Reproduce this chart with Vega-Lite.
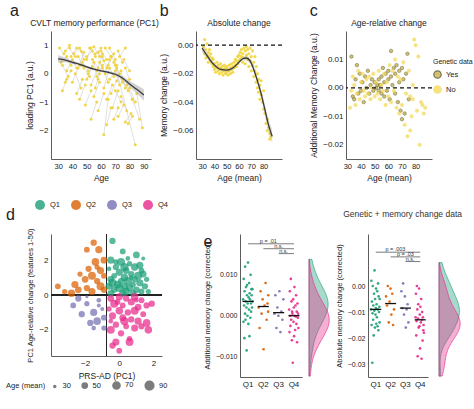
{
  "$schema": "https://vega.github.io/schema/vega-lite/v6.json",
  "background": "white",
  "padding": {"left": 6, "top": 2, "right": 2, "bottom": 2},
  "config": {
    "font": "Liberation Sans",
    "view": {"stroke": null},
    "axis": {"grid": false, "ticks": false, "domainColor": "#333", "domainWidth": 0.8, "labelFontSize": 8, "labelColor": "#222", "labelOverlap": false, "titleFontSize": 8.5, "titleFontWeight": "normal", "titleColor": "#222", "labelPadding": 3, "titlePadding": 4},
    "title": {"fontSize": 8.5, "fontWeight": "normal", "color": "#222", "offset": 4},
    "legend": {"titleFontWeight": "normal", "titleFontSize": 8, "labelFontSize": 8, "titleColor": "#222", "labelColor": "#222"}
  },
  "datasets": {
    "a_obs": [
      {"s":1,"age":31,"v":0.9},{"s":1,"age":34,"v":0.7},
      {"s":2,"age":32,"v":0.4},{"s":2,"age":36,"v":0.6},{"s":2,"age":39,"v":0.3},
      {"s":3,"age":33,"v":-0.6},{"s":3,"age":36,"v":-0.2},
      {"s":4,"age":35,"v":0.8},{"s":4,"age":38,"v":1.0},
      {"s":5,"age":36,"v":0.1},{"s":5,"age":40,"v":0.5},{"s":5,"age":43,"v":0.2},
      {"s":6,"age":38,"v":0.9},{"s":6,"age":42,"v":0.6},
      {"s":7,"age":40,"v":-0.3},{"s":7,"age":44,"v":0.2},
      {"s":8,"age":41,"v":0.7},{"s":8,"age":45,"v":0.9},{"s":8,"age":48,"v":0.5},
      {"s":9,"age":42,"v":0.0},{"s":9,"age":46,"v":-0.5},
      {"s":10,"age":44,"v":0.6},{"s":10,"age":47,"v":0.3},
      {"s":11,"age":45,"v":-0.9},{"s":11,"age":49,"v":-0.4},
      {"s":12,"age":46,"v":0.8},{"s":12,"age":50,"v":0.5},{"s":12,"age":53,"v":0.9},
      {"s":13,"age":48,"v":0.2},{"s":13,"age":52,"v":-0.1},
      {"s":14,"age":49,"v":-1.1},{"s":14,"age":53,"v":-0.6},
      {"s":15,"age":50,"v":0.6},{"s":15,"age":54,"v":0.8},
      {"s":16,"age":51,"v":0.0},{"s":16,"age":55,"v":0.4},{"s":16,"age":58,"v":-0.2},
      {"s":17,"age":52,"v":0.9},{"s":17,"age":56,"v":0.6},
      {"s":18,"age":53,"v":-0.4},{"s":18,"age":57,"v":0.1},
      {"s":19,"age":54,"v":0.5},{"s":19,"age":58,"v":0.2},{"s":19,"age":61,"v":0.7},
      {"s":20,"age":55,"v":-0.8},{"s":20,"age":59,"v":-0.3},
      {"s":21,"age":56,"v":0.7},{"s":21,"age":60,"v":0.9},
      {"s":22,"age":57,"v":-0.1},{"s":22,"age":61,"v":0.3},
      {"s":23,"age":58,"v":-1.3},{"s":23,"age":62,"v":-0.7},
      {"s":24,"age":59,"v":0.4},{"s":24,"age":63,"v":0.0},{"s":24,"age":66,"v":0.5},
      {"s":25,"age":60,"v":0.8},{"s":25,"age":64,"v":0.5},
      {"s":26,"age":62,"v":-2.15},{"s":26,"age":65,"v":-0.9},
      {"s":27,"age":61,"v":0.2},{"s":27,"age":65,"v":-0.3},
      {"s":28,"age":62,"v":-0.5},{"s":28,"age":66,"v":0.2},{"s":28,"age":69,"v":-0.1},
      {"s":29,"age":63,"v":0.9},{"s":29,"age":67,"v":0.6},
      {"s":30,"age":64,"v":-0.9},{"s":30,"age":68,"v":-0.4},
      {"s":31,"age":65,"v":0.3},{"s":31,"age":69,"v":0.7},
      {"s":32,"age":66,"v":-0.2},{"s":32,"age":70,"v":0.1},{"s":32,"age":73,"v":-0.4},
      {"s":33,"age":67,"v":0.6},{"s":33,"age":71,"v":0.3},
      {"s":34,"age":68,"v":-1.2},{"s":34,"age":72,"v":-0.6},
      {"s":35,"age":69,"v":0.4},{"s":35,"age":73,"v":0.0},
      {"s":36,"age":70,"v":-0.6},{"s":36,"age":74,"v":-1.0},
      {"s":37,"age":71,"v":0.2},{"s":37,"age":75,"v":-0.3},
      {"s":38,"age":72,"v":-1.5},{"s":38,"age":76,"v":-1.1},
      {"s":39,"age":73,"v":0.6},{"s":39,"age":77,"v":0.9},
      {"s":40,"age":74,"v":-0.8},{"s":40,"age":78,"v":-1.3},
      {"s":41,"age":75,"v":-0.2},{"s":41,"age":79,"v":-0.6},
      {"s":42,"age":76,"v":0.5},{"s":42,"age":80,"v":0.1},
      {"s":43,"age":77,"v":-1.7},{"s":43,"age":81,"v":-1.4},
      {"s":44,"age":78,"v":-0.4},{"s":44,"age":82,"v":-0.9},
      {"s":45,"age":70,"v":0.3},{"s":45,"age":84,"v":-2.5},
      {"s":46,"age":80,"v":-0.5},{"s":46,"age":84,"v":-1.0},
      {"s":47,"age":82,"v":-0.9},{"s":47,"age":87,"v":-1.6},
      {"s":48,"age":85,"v":-0.7},{"s":48,"age":89,"v":-1.9},
      {"s":49,"age":33,"v":0.3},{"s":49,"age":37,"v":-0.1},
      {"s":50,"age":47,"v":0.4},{"s":50,"age":51,"v":0.1},
      {"s":51,"age":61,"v":0.6},{"s":51,"age":64,"v":0.2},
      {"s":52,"age":66,"v":0.9},{"s":52,"age":70,"v":0.5},
      {"s":53,"age":35,"v":-0.3},{"s":53,"age":39,"v":0.1},
      {"s":54,"age":56,"v":-0.5},{"s":54,"age":59,"v":0.0},
      {"s":55,"age":72,"v":0.8},{"s":55,"age":75,"v":0.4},
      {"s":56,"age":43,"v":-0.7},{"s":56,"age":47,"v":-0.2},
      {"s":57,"age":77,"v":0.2},{"s":57,"age":80,"v":-0.2},
      {"s":58,"age":53,"v":-1.6},{"s":58,"age":57,"v":-1.0},
      {"s":59,"age":64,"v":-1.8},{"s":59,"age":67,"v":-1.2},
      {"s":60,"age":39,"v":0.6},{"s":60,"age":43,"v":0.9},
      {"s":61,"age":58,"v":0.75},{"s":61,"age":62,"v":0.45},
      {"s":62,"age":67,"v":-0.7},{"s":62,"age":71,"v":-0.25},
      {"s":63,"age":74,"v":0.1},{"s":63,"age":77,"v":-0.5},
      {"s":64,"age":45,"v":0.3},{"s":64,"age":48,"v":0.75},
      {"s":65,"age":50,"v":-0.2},{"s":65,"age":54,"v":0.25},
      {"s":66,"age":69,"v":-1.6},{"s":66,"age":72,"v":-1.2},
      {"s":67,"age":79,"v":-1.75},{"s":67,"age":82,"v":-1.5},
      {"s":68,"age":55,"v":0.95},{"s":68,"age":59,"v":0.6}
    ],
    "a_fit": [
      {"age":30,"fit":0.52,"lo":0.38,"hi":0.66},{"age":35,"fit":0.48,"lo":0.40,"hi":0.56},
      {"age":40,"fit":0.40,"lo":0.34,"hi":0.46},{"age":45,"fit":0.33,"lo":0.28,"hi":0.38},
      {"age":50,"fit":0.24,"lo":0.20,"hi":0.28},{"age":55,"fit":0.16,"lo":0.12,"hi":0.20},
      {"age":60,"fit":0.10,"lo":0.06,"hi":0.14},{"age":65,"fit":0.05,"lo":0.01,"hi":0.09},
      {"age":70,"fit":-0.02,"lo":-0.07,"hi":0.03},{"age":75,"fit":-0.15,"lo":-0.22,"hi":-0.08},
      {"age":80,"fit":-0.36,"lo":-0.46,"hi":-0.26},{"age":85,"fit":-0.55,"lo":-0.70,"hi":-0.40},
      {"age":90,"fit":-0.75,"lo":-0.95,"hi":-0.55}
    ],
    "b_obs": [
      {"age":31,"v":-0.001},{"age":32,"v":0.004},{"age":32,"v":-0.006},{"age":33,"v":-0.003},{"age":33,"v":-0.009},
      {"age":34,"v":0.001},{"age":34,"v":-0.007},{"age":35,"v":-0.005},{"age":35,"v":-0.012},{"age":36,"v":-0.008},
      {"age":36,"v":-0.003},{"age":37,"v":-0.011},{"age":37,"v":-0.006},{"age":38,"v":-0.013},{"age":38,"v":-0.009},
      {"age":39,"v":-0.010},{"age":39,"v":-0.015},{"age":40,"v":-0.013},{"age":40,"v":-0.017},
      {"age":41,"v":-0.015},{"age":41,"v":-0.019},{"age":42,"v":-0.016},{"age":42,"v":-0.012},{"age":43,"v":-0.018},
      {"age":43,"v":-0.014},{"age":44,"v":-0.020},{"age":44,"v":-0.016},{"age":45,"v":-0.017},{"age":45,"v":-0.013},
      {"age":46,"v":-0.019},{"age":46,"v":-0.015},{"age":47,"v":-0.021},{"age":47,"v":-0.017},{"age":48,"v":-0.018},
      {"age":48,"v":-0.014},{"age":49,"v":-0.020},{"age":49,"v":-0.016},{"age":50,"v":-0.019},{"age":50,"v":-0.015},
      {"age":51,"v":-0.021},{"age":51,"v":-0.017},{"age":52,"v":-0.018},{"age":52,"v":-0.014},{"age":53,"v":-0.020},
      {"age":53,"v":-0.016},{"age":54,"v":-0.017},{"age":54,"v":-0.013},{"age":55,"v":-0.019},{"age":55,"v":-0.015},
      {"age":56,"v":-0.016},{"age":56,"v":-0.012},{"age":57,"v":-0.014},{"age":57,"v":-0.010},{"age":58,"v":-0.015},
      {"age":58,"v":-0.011},{"age":59,"v":-0.013},{"age":59,"v":-0.008},{"age":60,"v":-0.011},{"age":60,"v":-0.007},
      {"age":61,"v":-0.010},{"age":61,"v":-0.005},{"age":62,"v":-0.008},{"age":62,"v":-0.003},{"age":63,"v":-0.006},
      {"age":63,"v":-0.012},{"age":64,"v":-0.002},{"age":64,"v":-0.009},{"age":65,"v":-0.004},{"age":65,"v":-0.013},
      {"age":66,"v":-0.001},{"age":66,"v":-0.007},{"age":67,"v":-0.010},{"age":67,"v":-0.003},{"age":68,"v":-0.006},
      {"age":68,"v":-0.015},{"age":69,"v":-0.002},{"age":69,"v":-0.011},{"age":70,"v":-0.008},{"age":70,"v":-0.018},
      {"age":71,"v":-0.004},{"age":71,"v":-0.014},{"age":72,"v":-0.012},{"age":72,"v":-0.022},{"age":73,"v":-0.018},
      {"age":73,"v":-0.008},{"age":74,"v":-0.026},{"age":74,"v":-0.015},{"age":75,"v":-0.030},{"age":75,"v":-0.020},
      {"age":76,"v":-0.024},{"age":76,"v":-0.033},{"age":77,"v":-0.028},{"age":77,"v":-0.038},{"age":78,"v":-0.035},
      {"age":78,"v":-0.025},{"age":79,"v":-0.040},{"age":80,"v":-0.045},{"age":80,"v":-0.032},{"age":81,"v":-0.048},
      {"age":82,"v":-0.055},{"age":83,"v":-0.052},{"age":83,"v":-0.060},{"age":84,"v":-0.058},{"age":85,"v":-0.066},
      {"age":85,"v":-0.062},{"age":86,"v":-0.064}
    ],
    "b_fit": [
      {"age":30,"fit":-0.002,"lo":-0.005,"hi":0.001},{"age":33,"fit":-0.006,"lo":-0.008,"hi":-0.004},
      {"age":36,"fit":-0.010,"lo":-0.0115,"hi":-0.0085},{"age":40,"fit":-0.014,"lo":-0.0152,"hi":-0.0128},
      {"age":45,"fit":-0.017,"lo":-0.018,"hi":-0.016},{"age":50,"fit":-0.0175,"lo":-0.0185,"hi":-0.0165},
      {"age":55,"fit":-0.016,"lo":-0.017,"hi":-0.015},{"age":60,"fit":-0.012,"lo":-0.013,"hi":-0.011},
      {"age":63,"fit":-0.0095,"lo":-0.011,"hi":-0.008},{"age":66,"fit":-0.009,"lo":-0.0105,"hi":-0.0075},
      {"age":69,"fit":-0.011,"lo":-0.013,"hi":-0.009},{"age":72,"fit":-0.017,"lo":-0.019,"hi":-0.015},
      {"age":75,"fit":-0.025,"lo":-0.0275,"hi":-0.0225},{"age":78,"fit":-0.034,"lo":-0.037,"hi":-0.031},
      {"age":81,"fit":-0.045,"lo":-0.0485,"hi":-0.0415},{"age":84,"fit":-0.056,"lo":-0.060,"hi":-0.052},
      {"age":87,"fit":-0.064,"lo":-0.069,"hi":-0.059}
    ],
    "c_obs": [
      {"age":33,"v":0.011,"g":"Yes"},{"age":34,"v":-0.003,"g":"Yes"},{"age":35,"v":-0.004,"g":"Yes"},{"age":36,"v":0.003,"g":"Yes"},
      {"age":37,"v":0.008,"g":"Yes"},{"age":38,"v":-0.002,"g":"Yes"},{"age":39,"v":0.005,"g":"Yes"},{"age":40,"v":-0.001,"g":"Yes"},
      {"age":41,"v":0.002,"g":"Yes"},{"age":42,"v":-0.005,"g":"Yes"},{"age":43,"v":0.004,"g":"Yes"},{"age":44,"v":0.000,"g":"Yes"},
      {"age":45,"v":0.006,"g":"Yes"},{"age":46,"v":-0.002,"g":"Yes"},{"age":47,"v":0.001,"g":"Yes"},{"age":48,"v":0.003,"g":"Yes"},
      {"age":49,"v":-0.001,"g":"Yes"},{"age":50,"v":0.002,"g":"Yes"},{"age":51,"v":0.000,"g":"Yes"},{"age":52,"v":0.001,"g":"Yes"},
      {"age":53,"v":-0.001,"g":"Yes"},{"age":53,"v":0.003,"g":"Yes"},{"age":54,"v":0.001,"g":"Yes"},{"age":55,"v":-0.002,"g":"Yes"},
      {"age":55,"v":0.004,"g":"Yes"},{"age":56,"v":0.007,"g":"Yes"},{"age":57,"v":-0.003,"g":"Yes"},{"age":57,"v":0.002,"g":"Yes"},
      {"age":58,"v":0.005,"g":"Yes"},{"age":59,"v":-0.001,"g":"Yes"},{"age":60,"v":0.003,"g":"Yes"},{"age":60,"v":0.006,"g":"Yes"},
      {"age":61,"v":-0.004,"g":"Yes"},{"age":62,"v":0.004,"g":"Yes"},{"age":62,"v":0.013,"g":"Yes"},{"age":63,"v":0.001,"g":"Yes"},
      {"age":64,"v":0.007,"g":"Yes"},{"age":65,"v":-0.002,"g":"Yes"},{"age":65,"v":0.005,"g":"Yes"},{"age":66,"v":0.008,"g":"Yes"},
      {"age":67,"v":-0.005,"g":"Yes"},{"age":68,"v":0.006,"g":"Yes"},{"age":68,"v":0.002,"g":"Yes"},{"age":69,"v":-0.008,"g":"Yes"},
      {"age":70,"v":0.007,"g":"Yes"},{"age":70,"v":-0.011,"g":"Yes"},{"age":71,"v":0.003,"g":"Yes"},{"age":72,"v":-0.009,"g":"Yes"},
      {"age":73,"v":0.005,"g":"Yes"},{"age":74,"v":0.012,"g":"Yes"},{"age":75,"v":-0.004,"g":"Yes"},
      {"age":32,"v":-0.007,"g":"No"},{"age":33,"v":-0.001,"g":"No"},{"age":34,"v":0.004,"g":"No"},{"age":35,"v":0.001,"g":"No"},
      {"age":36,"v":-0.006,"g":"No"},{"age":37,"v":-0.002,"g":"No"},{"age":38,"v":0.006,"g":"No"},{"age":39,"v":-0.004,"g":"No"},
      {"age":40,"v":0.002,"g":"No"},{"age":41,"v":0.005,"g":"No"},{"age":42,"v":-0.001,"g":"No"},{"age":43,"v":-0.003,"g":"No"},
      {"age":44,"v":0.003,"g":"No"},{"age":45,"v":-0.002,"g":"No"},{"age":46,"v":0.004,"g":"No"},{"age":47,"v":-0.004,"g":"No"},
      {"age":48,"v":0.000,"g":"No"},{"age":49,"v":0.005,"g":"No"},{"age":50,"v":-0.003,"g":"No"},{"age":51,"v":0.002,"g":"No"},
      {"age":52,"v":-0.002,"g":"No"},{"age":53,"v":0.006,"g":"No"},{"age":54,"v":-0.004,"g":"No"},{"age":55,"v":0.001,"g":"No"},
      {"age":56,"v":-0.001,"g":"No"},{"age":57,"v":0.005,"g":"No"},{"age":58,"v":-0.006,"g":"No"},{"age":59,"v":0.002,"g":"No"},
      {"age":60,"v":-0.003,"g":"No"},{"age":61,"v":0.008,"g":"No"},{"age":62,"v":-0.005,"g":"No"},{"age":63,"v":0.006,"g":"No"},
      {"age":64,"v":-0.001,"g":"No"},{"age":65,"v":0.010,"g":"No"},{"age":66,"v":-0.007,"g":"No"},{"age":67,"v":0.004,"g":"No"},
      {"age":68,"v":-0.009,"g":"No"},{"age":69,"v":0.003,"g":"No"},{"age":70,"v":-0.006,"g":"No"},{"age":71,"v":0.009,"g":"No"},
      {"age":72,"v":-0.013,"g":"No"},{"age":73,"v":-0.002,"g":"No"},{"age":74,"v":-0.017,"g":"No"},{"age":75,"v":0.006,"g":"No"},
      {"age":76,"v":-0.003,"g":"No"},{"age":77,"v":-0.010,"g":"No"},{"age":78,"v":-0.004,"g":"No"},{"age":79,"v":0.017,"g":"No"},
      {"age":80,"v":0.015,"g":"No"},{"age":81,"v":-0.008,"g":"No"},{"age":82,"v":0.011,"g":"No"},{"age":83,"v":-0.020,"g":"No"},
      {"age":84,"v":-0.005,"g":"No"},{"age":85,"v":-0.006,"g":"No"},{"age":86,"v":-0.009,"g":"No"},{"age":87,"v":-0.007,"g":"No"},
      {"age":76,"v":-0.015,"g":"No"},{"age":78,"v":0.001,"g":"No"}
    ],
    "d_obs": [
      {"x":-0.4,"y":3.1,"a":60,"q":"Q1"},{"x":0.2,"y":2.5,"a":55,"q":"Q1"},{"x":1.0,"y":2.3,"a":65,"q":"Q1"},{"x":1.4,"y":2.1,"a":40,"q":"Q1"},
      {"x":-0.5,"y":2.0,"a":70,"q":"Q1"},{"x":0.1,"y":1.9,"a":80,"q":"Q1"},{"x":0.6,"y":1.8,"a":50,"q":"Q1"},{"x":-0.2,"y":1.6,"a":60,"q":"Q1"},
      {"x":0.9,"y":1.6,"a":75,"q":"Q1"},{"x":1.3,"y":1.4,"a":55,"q":"Q1"},{"x":-0.6,"y":1.5,"a":45,"q":"Q1"},{"x":0.4,"y":1.4,"a":65,"q":"Q1"},
      {"x":0.0,"y":1.3,"a":70,"q":"Q1"},{"x":0.7,"y":1.2,"a":60,"q":"Q1"},{"x":1.1,"y":1.1,"a":80,"q":"Q1"},{"x":-0.3,"y":1.1,"a":55,"q":"Q1"},
      {"x":0.3,"y":1.0,"a":75,"q":"Q1"},{"x":0.9,"y":0.9,"a":60,"q":"Q1"},{"x":1.6,"y":0.9,"a":50,"q":"Q1"},{"x":-0.5,"y":0.9,"a":65,"q":"Q1"},
      {"x":0.1,"y":0.8,"a":60,"q":"Q1"},{"x":0.5,"y":0.8,"a":85,"q":"Q1"},{"x":1.2,"y":0.7,"a":70,"q":"Q1"},{"x":-0.1,"y":0.6,"a":75,"q":"Q1"},
      {"x":0.8,"y":0.6,"a":55,"q":"Q1"},{"x":0.3,"y":0.5,"a":65,"q":"Q1"},{"x":1.5,"y":0.5,"a":60,"q":"Q1"},{"x":-0.6,"y":0.5,"a":70,"q":"Q1"},
      {"x":0.0,"y":0.4,"a":80,"q":"Q1"},{"x":0.6,"y":0.4,"a":70,"q":"Q1"},{"x":1.0,"y":0.3,"a":65,"q":"Q1"},{"x":-0.3,"y":0.3,"a":60,"q":"Q1"},
      {"x":0.4,"y":0.2,"a":75,"q":"Q1"},{"x":1.3,"y":0.2,"a":55,"q":"Q1"},{"x":-0.5,"y":0.1,"a":65,"q":"Q1"},{"x":0.2,"y":0.1,"a":70,"q":"Q1"},
      {"x":0.8,"y":0.1,"a":60,"q":"Q1"},{"x":1.7,"y":0.2,"a":50,"q":"Q1"},{"x":-0.2,"y":1.9,"a":50,"q":"Q1"},{"x":0.5,"y":2.1,"a":45,"q":"Q1"},
      {"x":1.2,"y":1.7,"a":70,"q":"Q1"},{"x":0.3,"y":1.6,"a":85,"q":"Q1"},{"x":-0.4,"y":0.7,"a":85,"q":"Q1"},{"x":0.7,"y":1.0,"a":45,"q":"Q1"},
      {"x":1.4,"y":1.2,"a":65,"q":"Q1"},
      {"x":-1.5,"y":3.0,"a":60,"q":"Q2"},{"x":-1.9,"y":2.6,"a":55,"q":"Q2"},{"x":-1.2,"y":2.6,"a":70,"q":"Q2"},{"x":-0.9,"y":2.0,"a":65,"q":"Q2"},
      {"x":-1.4,"y":1.9,"a":75,"q":"Q2"},{"x":-1.8,"y":1.5,"a":60,"q":"Q2"},{"x":-1.1,"y":1.4,"a":70,"q":"Q2"},{"x":-2.3,"y":1.2,"a":50,"q":"Q2"},
      {"x":-1.6,"y":1.1,"a":80,"q":"Q2"},{"x":-0.9,"y":1.1,"a":55,"q":"Q2"},{"x":-2.0,"y":0.9,"a":65,"q":"Q2"},{"x":-1.3,"y":0.8,"a":60,"q":"Q2"},
      {"x":-3.6,"y":0.5,"a":55,"q":"Q2"},{"x":-2.6,"y":0.6,"a":70,"q":"Q2"},{"x":-1.9,"y":0.4,"a":60,"q":"Q2"},{"x":-1.1,"y":0.5,"a":80,"q":"Q2"},
      {"x":-3.2,"y":0.2,"a":50,"q":"Q2"},{"x":-2.4,"y":0.3,"a":65,"q":"Q2"},{"x":-1.6,"y":0.2,"a":70,"q":"Q2"},{"x":-0.9,"y":0.3,"a":60,"q":"Q2"},
      {"x":-2.8,"y":0.1,"a":75,"q":"Q2"},{"x":-1.3,"y":1.6,"a":50,"q":"Q2"},
      {"x":-2.4,"y":-0.2,"a":60,"q":"Q3"},{"x":-1.9,"y":-0.5,"a":50,"q":"Q3"},{"x":-1.2,"y":-0.3,"a":45,"q":"Q3"},{"x":-2.7,"y":-0.6,"a":55,"q":"Q3"},
      {"x":-1.5,"y":-1.0,"a":70,"q":"Q3"},{"x":-2.2,"y":-1.1,"a":60,"q":"Q3"},{"x":-1.0,"y":-0.8,"a":40,"q":"Q3"},{"x":-1.3,"y":-1.5,"a":75,"q":"Q3"},
      {"x":-1.7,"y":-1.6,"a":60,"q":"Q3"},{"x":-0.9,"y":-1.9,"a":50,"q":"Q3"},{"x":-0.9,"y":-1.3,"a":55,"q":"Q3"},{"x":-1.9,"y":-0.1,"a":35,"q":"Q3"},
      {"x":-1.5,"y":-1.9,"a":45,"q":"Q3"},{"x":-1.2,"y":-0.6,"a":40,"q":"Q3"},
      {"x":-0.5,"y":-0.2,"a":65,"q":"Q4"},{"x":0.0,"y":-0.1,"a":70,"q":"Q4"},{"x":0.4,"y":-0.2,"a":60,"q":"Q4"},{"x":0.9,"y":-0.1,"a":75,"q":"Q4"},
      {"x":1.3,"y":-0.3,"a":55,"q":"Q4"},{"x":1.9,"y":-0.5,"a":60,"q":"Q4"},{"x":-0.3,"y":-0.5,"a":80,"q":"Q4"},{"x":0.2,"y":-0.6,"a":55,"q":"Q4"},
      {"x":0.7,"y":-0.4,"a":70,"q":"Q4"},{"x":1.1,"y":-0.7,"a":65,"q":"Q4"},{"x":1.6,"y":-0.6,"a":60,"q":"Q4"},{"x":-0.6,"y":-0.8,"a":50,"q":"Q4"},
      {"x":0.0,"y":-0.9,"a":75,"q":"Q4"},{"x":0.5,"y":-1.0,"a":60,"q":"Q4"},{"x":0.9,"y":-0.9,"a":80,"q":"Q4"},{"x":1.4,"y":-1.1,"a":55,"q":"Q4"},
      {"x":-0.4,"y":-1.2,"a":70,"q":"Q4"},{"x":0.2,"y":-1.3,"a":65,"q":"Q4"},{"x":0.7,"y":-1.4,"a":60,"q":"Q4"},{"x":1.1,"y":-1.5,"a":70,"q":"Q4"},
      {"x":1.6,"y":-1.6,"a":75,"q":"Q4"},{"x":-0.2,"y":-1.7,"a":60,"q":"Q4"},{"x":0.4,"y":-1.8,"a":55,"q":"Q4"},{"x":0.9,"y":-1.9,"a":70,"q":"Q4"},
      {"x":-0.5,"y":-2.0,"a":80,"q":"Q4"},{"x":0.1,"y":-2.2,"a":60,"q":"Q4"},{"x":1.7,"y":-2.0,"a":75,"q":"Q4"},{"x":1.3,"y":-1.8,"a":60,"q":"Q4"},
      {"x":0.6,"y":-2.5,"a":50,"q":"Q4"},{"x":-0.2,"y":-2.7,"a":70,"q":"Q4"},{"x":0.6,"y":-2.7,"a":80,"q":"Q4"},{"x":-0.4,"y":-2.9,"a":60,"q":"Q4"},
      {"x":0.0,"y":-3.2,"a":55,"q":"Q4"},{"x":-0.1,"y":-0.4,"a":55,"q":"Q4"},{"x":1.0,"y":-0.3,"a":45,"q":"Q4"},{"x":0.3,"y":-1.5,"a":85,"q":"Q4"},
      {"x":-0.5,"y":-1.5,"a":45,"q":"Q4"}
    ],
    "e_add": [
      {"q":"Q1","v":0.004},{"q":"Q4","v":0.0015},{"q":"Q2","v":0.002},{"q":"Q1","v":-0.0015},{"q":"Q4","v":-0.004},{"q":"Q1","v":0.009},{"q":"Q3","v":0.0005},{"q":"Q4","v":0.006},{"q":"Q1","v":0.0025},{"q":"Q4","v":0.0},{"q":"Q2","v":-0.003},{"q":"Q1","v":-0.0055},{"q":"Q4","v":-0.0025},{"q":"Q1","v":0.006},{"q":"Q3","v":0.005},{"q":"Q4","v":0.009},{"q":"Q1","v":0.0005},
      {"q":"Q1","v":0.012},{"q":"Q4","v":-0.001},{"q":"Q2","v":0.006},{"q":"Q1","v":-0.001},{"q":"Q4","v":0.0035},{"q":"Q1","v":0.0035},{"q":"Q3","v":-0.003},{"q":"Q4","v":-0.006},{"q":"Q1","v":0.007},{"q":"Q4","v":0.001},{"q":"Q2","v":0.0005},{"q":"Q1","v":0.002},{"q":"Q4","v":0.0005},{"q":"Q1","v":-0.0085},{"q":"Q3","v":0.002},{"q":"Q4","v":-0.0115},{"q":"Q1","v":0.005},
      {"q":"Q1","v":0.0075},{"q":"Q4","v":0.004},{"q":"Q2","v":0.004},{"q":"Q1","v":0.0},{"q":"Q4","v":-0.0015},{"q":"Q1","v":0.003},{"q":"Q3","v":0.0},{"q":"Q4","v":0.002},{"q":"Q1","v":0.013},{"q":"Q4","v":-0.005},{"q":"Q2","v":-0.0082},{"q":"Q1","v":-0.002},{"q":"Q4","v":0.007},{"q":"Q1","v":0.0045},{"q":"Q3","v":0.006},{"q":"Q4","v":0.0},{"q":"Q1","v":0.0015},
      {"q":"Q1","v":0.008},{"q":"Q4","v":-0.0035},{"q":"Q2","v":0.0025},{"q":"Q1","v":-0.005},{"q":"Q4","v":0.0025},{"q":"Q1","v":0.0055},{"q":"Q3","v":-0.004},{"q":"Q4","v":-0.0002},{"q":"Q1","v":0.004},{"q":"Q4","v":0.005},{"q":"Q2","v":0.008},{"q":"Q1","v":-0.0005},{"q":"Q4","v":-0.002},{"q":"Q1","v":0.010},{"q":"Q3","v":0.001},{"q":"Q4","v":0.001},{"q":"Q1","v":0.003},
      {"q":"Q1","v":0.001},{"q":"Q4","v":-0.0065},{"q":"Q2","v":-0.001},{"q":"Q1","v":0.0065},{"q":"Q4","v":0.003},{"q":"Q1","v":0.005},{"q":"Q3","v":-0.001},{"q":"Q4","v":-0.0005},{"q":"Q1","v":0.002},{"q":"Q4","v":0.0005},{"q":"Q2","v":0.003},{"q":"Q1","v":0.0065},{"q":"Q4","v":-0.003},{"q":"Q1","v":0.0035},{"q":"Q3","v":0.004},{"q":"Q2","v":0.001},{"q":"Q2","v":0.005}
    ],
    "e_abs": [
      {"q":"Q1","v":-0.009},{"q":"Q4","v":-0.012},{"q":"Q2","v":-0.004},{"q":"Q1","v":0.002},{"q":"Q4","v":-0.003},{"q":"Q1","v":-0.015},{"q":"Q3","v":-0.002},{"q":"Q4","v":-0.019},{"q":"Q1","v":-0.006},{"q":"Q4","v":-0.0135},{"q":"Q2","v":-0.0075},{"q":"Q1","v":-0.0295},{"q":"Q4","v":0.0},{"q":"Q1","v":-0.0105},{"q":"Q3","v":-0.0085},
      {"q":"Q1","v":0.0},{"q":"Q4","v":-0.009},{"q":"Q2","v":0.0},{"q":"Q1","v":-0.013},{"q":"Q4","v":-0.027},{"q":"Q1","v":-0.0075},{"q":"Q3","v":0.001},{"q":"Q4","v":-0.0125},{"q":"Q1","v":-0.019},{"q":"Q4","v":-0.007},{"q":"Q2","v":-0.014},{"q":"Q1","v":-0.003},{"q":"Q4","v":-0.016},{"q":"Q1","v":-0.0095},{"q":"Q3","v":-0.011},
      {"q":"Q1","v":0.006},{"q":"Q4","v":-0.001},{"q":"Q2","v":-0.006},{"q":"Q1","v":-0.016},{"q":"Q4","v":-0.0155},{"q":"Q1","v":-0.005},{"q":"Q3","v":-0.004},{"q":"Q4","v":-0.011},{"q":"Q1","v":-0.011},{"q":"Q4","v":-0.024},{"q":"Q2","v":-0.001},{"q":"Q1","v":-0.0085},{"q":"Q4","v":-0.008},{"q":"Q1","v":-0.001},{"q":"Q3","v":-0.016},
      {"q":"Q1","v":-0.0145},{"q":"Q4","v":-0.014},{"q":"Q2","v":-0.011},{"q":"Q1","v":-0.007},{"q":"Q4","v":-0.005},{"q":"Q1","v":-0.012},{"q":"Q3","v":-0.009},{"q":"Q4","v":-0.028},{"q":"Q1","v":-0.002},{"q":"Q4","v":-0.013},{"q":"Q2","v":-0.003},{"q":"Q1","v":-0.0155},{"q":"Q4","v":-0.010},{"q":"Q1","v":-0.009},{"q":"Q3","v":-0.007},
      {"q":"Q1","v":0.001},{"q":"Q4","v":-0.021},{"q":"Q2","v":-0.015},{"q":"Q1","v":-0.017},{"q":"Q4","v":-0.012},{"q":"Q1","v":-0.004},{"q":"Q3","v":-0.014},{"q":"Q4","v":-0.017},{"q":"Q1","v":-0.010},{"q":"Q4","v":-0.015},{"q":"Q2","v":-0.009},{"q":"Q1","v":-0.008},{"q":"Q4","v":-0.018},{"q":"Q1","v":-0.014},{"q":"Q1","v":-0.005}
    ],
    "e_add_sig": [
      {"a":"Q1","b":"Q4","y":0.0176,"lab":"p = .01"},
      {"a":"Q2","b":"Q4","y":0.0164,"lab":"n.s."},
      {"a":"Q3","b":"Q4","y":0.0152,"lab":"n.s."}
    ],
    "e_abs_sig": [
      {"a":"Q1","b":"Q4","y":0.0130,"lab":"p = .003"},
      {"a":"Q2","b":"Q4","y":0.0112,"lab":"p = .03"},
      {"a":"Q3","b":"Q4","y":0.0094,"lab":"n.s."}
    ]
  },
  "resolve": {"scale": {"color": "independent", "fill": "independent", "stroke": "independent", "size": "independent"}},
  "spacing": 17,
  "vconcat": [
    {
      "spacing": 26,
      "resolve": {"scale": {"color": "independent", "fill": "independent", "stroke": "independent", "size": "independent"}},
      "hconcat": [
        {
          "spacing": 0,
          "resolve": {"scale": {"color": "independent", "fill": "independent", "stroke": "independent", "size": "independent"}},
          "hconcat": [
            {
              "title": {"text": "a", "anchor": "start", "fontSize": 16, "offset": 0, "dx": -16},
              "vconcat": [
                {
                  "width": 100, "height": 128,
                  "title": {"text": "CVLT memory performance (PC1)", "frame": "bounds", "dx": 6},
                  "layer": [
                    {"data": {"name": "a_obs"}, "mark": {"type": "line", "color": "#bdbdbd", "strokeWidth": 0.6, "opacity": 0.8},
                     "encoding": {
                       "x": {"field": "age", "type": "quantitative", "scale": {"domain": [28, 95]}, "axis": {"values": [30, 40, 50, 60, 70, 80, 90], "labelOverlap": false, "labelFlush": false, "labelFontSize": 7.5, "title": "Age"}},
                       "y": {"field": "v", "type": "quantitative", "scale": {"domain": [-2.65, 1.1]}, "axis": {"values": [-2, -1, 0, 1], "title": "loading PC1 (a.u.)"}},
                       "detail": {"field": "s", "type": "nominal"}}},
                    {"data": {"name": "a_obs"}, "mark": {"type": "circle", "color": "#F0D23A", "size": 9, "opacity": 0.9},
                     "encoding": {
                       "x": {"field": "age", "type": "quantitative", "axis": {"values": [30, 40, 50, 60, 70, 80, 90], "labelOverlap": false, "labelFlush": false, "labelFontSize": 7.5, "title": "Age"}},
                       "y": {"field": "v", "type": "quantitative"}}},
                    {"data": {"name": "a_fit"}, "mark": {"type": "area", "color": "#9a9a9a", "opacity": 0.45, "interpolate": "monotone"},
                     "encoding": {
                       "x": {"field": "age", "type": "quantitative", "axis": {"values": [30, 40, 50, 60, 70, 80, 90], "labelOverlap": false, "labelFlush": false, "labelFontSize": 7.5, "title": "Age"}},
                       "y": {"field": "lo", "type": "quantitative"}, "y2": {"field": "hi"}}},
                    {"data": {"name": "a_fit"}, "mark": {"type": "line", "color": "#3a3a3a", "strokeWidth": 1.3, "interpolate": "monotone"},
                     "encoding": {
                       "x": {"field": "age", "type": "quantitative", "axis": {"values": [30, 40, 50, 60, 70, 80, 90], "labelOverlap": false, "labelFlush": false, "labelFontSize": 7.5, "title": "Age"}},
                       "y": {"field": "fit", "type": "quantitative"}}}
                  ]
                }
              ]
            },
            {
              "title": {"text": "b", "anchor": "start", "fontSize": 16, "offset": 0},
              "vconcat": [
                {
                  "width": 86, "height": 128,
                  "title": {"text": "Absolute change"},
                  "layer": [
                    {"data": {"name": "b_obs"}, "mark": {"type": "circle", "color": "#F0D22E", "size": 10, "opacity": 0.85},
                     "encoding": {
                       "x": {"field": "age", "type": "quantitative", "scale": {"domain": [29, 92]}, "axis": {"values": [30, 40, 50, 60, 70, 80], "labelOverlap": false, "labelFlush": false, "labelFontSize": 7.5, "title": "Age (mean)"}},
                       "y": {"field": "v", "type": "quantitative", "scale": {"domain": [-0.0705, 0.008]}, "axis": {"values": [0, -0.02, -0.04, -0.06], "format": ".2f", "title": "Memory change (a.u.)"}}}},
                    {"data": {"values": [{}]}, "mark": {"type": "rule", "strokeDash": [4, 3], "color": "#111", "strokeWidth": 1.2},
                     "encoding": {"y": {"datum": 0}}},
                    {"data": {"name": "b_fit"}, "mark": {"type": "area", "color": "#999", "opacity": 0.35, "interpolate": "monotone"},
                     "encoding": {
                       "x": {"field": "age", "type": "quantitative", "axis": {"values": [30, 40, 50, 60, 70, 80], "labelOverlap": false, "labelFlush": false, "labelFontSize": 7.5, "title": "Age (mean)"}},
                       "y": {"field": "lo", "type": "quantitative"}, "y2": {"field": "hi"}}},
                    {"data": {"name": "b_fit"}, "mark": {"type": "line", "color": "#3a3a3a", "strokeWidth": 1.3, "interpolate": "monotone"},
                     "encoding": {
                       "x": {"field": "age", "type": "quantitative", "axis": {"values": [30, 40, 50, 60, 70, 80], "labelOverlap": false, "labelFlush": false, "labelFontSize": 7.5, "title": "Age (mean)"}},
                       "y": {"field": "fit", "type": "quantitative"}}}
                  ]
                }
              ]
            }
          ]
        },
        {
          "title": {"text": "c", "anchor": "start", "fontSize": 16, "offset": 0},
          "resolve": {"scale": {"color": "independent", "fill": "independent", "stroke": "independent", "size": "independent"}},
          "vconcat": [
            {
              "width": 86, "height": 128,
              "title": {"text": "Age-relative change"},
              "layer": [
                {"data": {"name": "c_obs"}, "mark": {"type": "circle", "size": 12, "opacity": 0.75, "strokeWidth": 0.6},
                 "encoding": {
                   "x": {"field": "age", "type": "quantitative", "scale": {"domain": [29, 92]}, "axis": {"values": [30, 40, 50, 60, 70, 80], "labelOverlap": false, "labelFlush": false, "labelFontSize": 7.5, "title": "Age (mean)"}},
                   "y": {"field": "v", "type": "quantitative", "scale": {"domain": [-0.022, 0.019]}, "axis": {"values": [-0.02, -0.01, 0, 0.01], "format": ".2f", "title": "Additional Memory Change (a.u.)"}},
                   "fill": {"field": "g", "type": "nominal", "scale": {"domain": ["Yes", "No"], "range": ["#C2AE3A", "#F4D955"]},
                            "legend": {"title": "Genetic data", "orient": "none", "legendX": 87, "legendY": 27, "symbolSize": 55, "symbolStrokeWidth": 1.2, "rowPadding": 2, "titleFontSize": 7, "labelFontSize": 7.5, "titleLimit": 300}},
                   "stroke": {"field": "g", "type": "nominal", "scale": {"domain": ["Yes", "No"], "range": ["#4e4820", "#F4D955"]},
                            "legend": {"title": "Genetic data", "orient": "none", "legendX": 87, "legendY": 27, "symbolSize": 55, "symbolStrokeWidth": 1.2, "rowPadding": 2, "titleFontSize": 7, "labelFontSize": 7.5, "titleLimit": 300}}}},
                {"data": {"values": [{}]}, "mark": {"type": "rule", "strokeDash": [4, 3], "color": "#111", "strokeWidth": 1.2},
                 "encoding": {"y": {"datum": 0}}}
              ]
            }
          ]
        }
      ]
    },
    {
      "spacing": 34,
      "resolve": {"scale": {"color": "independent", "fill": "independent", "stroke": "independent", "size": "independent"}},
      "hconcat": [
        {
          "width": 111, "height": 122,
          "title": {"text": "d", "anchor": "start", "fontSize": 16, "offset": -24},
          "data": {"name": "d_obs"},
          "layer": [
            {"mark": {"type": "rule", "color": "#222", "strokeWidth": 1}, "encoding": {"x": {"datum": -0.75}}},
            {"mark": {"type": "rule", "color": "#222", "strokeWidth": 1}, "encoding": {"y": {"datum": 0}}},
            {"mark": {"type": "circle", "opacity": 0.72},
             "encoding": {
               "x": {"field": "x", "type": "quantitative", "scale": {"domain": [-3.95, 2.45]}, "axis": {"values": [-2, 0, 2], "title": "PRS-AD (PC1)"}},
               "y": {"field": "y", "type": "quantitative", "scale": {"domain": [-3.5, 3.45]}, "axis": {"values": [-2, 0, 2], "title": "PC1 Age-relative change (features 1-50)", "titleFontSize": 7.5}},
               "color": {"field": "q", "type": "nominal", "scale": {"domain": ["Q1", "Q2", "Q3", "Q4"], "range": ["#1B9E77", "#D95F02", "#7570B3", "#E7298A"]},
                         "legend": {"orient": "none", "legendX": -17, "legendY": -35, "title": null, "direction": "horizontal", "symbolSize": 100, "symbolType": "circle", "symbolOpacity": 0.8, "columnPadding": 9, "labelFontSize": 7.5}},
               "size": {"field": "a", "type": "quantitative", "scale": {"domain": [30, 90], "range": [4, 75]},
                        "legend": {"orient": "none", "legendX": -45, "legendY": 146, "title": "Age (mean)", "titleOrient": "left", "direction": "horizontal", "values": [30, 50, 70, 90], "symbolFillColor": "#666", "symbolStrokeColor": "#666", "symbolOpacity": 0.85, "columnPadding": 8, "labelFontSize": 7.5, "titleFontSize": 7.5}}}}
          ]
        },
        {
          "title": {"text": "Genetic + memory change data", "anchor": "end", "fontSize": 8.5, "color": "#333", "offset": 16},
          "resolve": {"scale": {"color": "independent", "fill": "independent", "stroke": "independent", "size": "independent"}},
          "vconcat": [
            {
              "title": {"text": "e", "anchor": "start", "fontSize": 16, "offset": -16},
              "spacing": 4,
              "resolve": {"scale": {"color": "independent", "fill": "independent", "stroke": "independent", "size": "independent"}},
              "hconcat": [
                {
                  "spacing": 5,
                  "resolve": {"scale": {"color": "independent", "fill": "independent", "stroke": "independent", "size": "independent"}},
                  "hconcat": [
                    {
                      "width": 62, "height": 143,
                      "data": {"name": "e_add"},
                      "layer": [
                        {"transform": [{"window": [{"op": "row_number", "as": "rn"}]}],
                         "mark": {"type": "circle", "size": 7, "opacity": 0.9},
                         "encoding": {
                           "x": {"field": "q", "type": "nominal", "scale": {"domain": ["Q1", "Q2", "Q3", "Q4"], "paddingInner": 0.35, "paddingOuter": 0.2}, "axis": {"title": null, "labelAngle": 0, "labelFontSize": 8}},
                           "xOffset": {"field": "rn", "type": "nominal"},
                           "y": {"field": "v", "type": "quantitative", "scale": {"domain": [-0.0127, 0.0195]}, "axis": {"values": [-0.01, -0.005, 0, 0.005, 0.01], "format": ".3f", "labelFontSize": 7, "titleFontSize": 7.5, "title": "Additional memory change (corrected)"}},
                           "color": {"field": "q", "type": "nominal", "scale": {"domain": ["Q1", "Q2", "Q3", "Q4"], "range": ["#1B9E77", "#D95F02", "#7570B3", "#E7298A"]}, "legend": null}}},
                        {"mark": {"type": "tick", "color": "#111", "thickness": 1.3, "size": 11},
                         "encoding": {"x": {"field": "q", "type": "nominal"}, "y": {"aggregate": "median", "field": "v", "type": "quantitative"}}},
                        {"data": {"name": "e_add_sig"}, "mark": {"type": "rule", "color": "#444", "strokeWidth": 0.7},
                         "encoding": {"x": {"field": "a", "type": "nominal"}, "x2": {"field": "b"}, "y": {"field": "y", "type": "quantitative"}}},
                        {"data": {"name": "e_add_sig"}, "transform": [{"filter": "datum.a == 'Q1'"}],
                         "mark": {"type": "text", "fontSize": 5.5, "dy": -3, "color": "#333"},
                         "encoding": {"x": {"datum": "Q2", "type": "nominal", "bandPosition": 1}, "y": {"field": "y", "type": "quantitative"}, "text": {"field": "lab"}}},
                        {"data": {"name": "e_add_sig"}, "transform": [{"filter": "datum.a == 'Q2'"}],
                         "mark": {"type": "text", "fontSize": 5.5, "dy": -3, "color": "#333"},
                         "encoding": {"x": {"datum": "Q3", "type": "nominal", "bandPosition": 0.5}, "y": {"field": "y", "type": "quantitative"}, "text": {"field": "lab"}}},
                        {"data": {"name": "e_add_sig"}, "transform": [{"filter": "datum.a == 'Q3'"}],
                         "mark": {"type": "text", "fontSize": 5.5, "dy": -3, "color": "#333"},
                         "encoding": {"x": {"datum": "Q3", "type": "nominal", "bandPosition": 1}, "y": {"field": "y", "type": "quantitative"}, "text": {"field": "lab"}}}
                      ]
                    },
                    {
                      "width": 22, "height": 143,
                      "data": {"name": "e_add"},
                      "transform": [
                        {"filter": {"field": "q", "oneOf": ["Q1", "Q4"]}},
                        {"density": "v", "groupby": ["q"], "bandwidth": 0.0028, "extent": [-0.0125, 0.0138], "steps": 80}
                      ],
                      "mark": {"type": "area", "orient": "horizontal", "fillOpacity": 0.38, "strokeWidth": 0.7, "strokeOpacity": 0.9},
                      "encoding": {
                        "y": {"field": "value", "type": "quantitative", "scale": {"domain": [-0.0127, 0.0195]}, "axis": null},
                        "x": {"field": "density", "type": "quantitative", "stack": null, "axis": null},
                        "color": {"field": "q", "type": "nominal", "scale": {"domain": ["Q1", "Q4"], "range": ["#1B9E77", "#E7298A"]}, "legend": null},
                        "stroke": {"field": "q", "type": "nominal", "scale": {"domain": ["Q1", "Q4"], "range": ["#1B9E77", "#E7298A"]}, "legend": null}
                      }
                    }
                  ]
                },
                {
                  "spacing": 9,
                  "resolve": {"scale": {"color": "independent", "fill": "independent", "stroke": "independent", "size": "independent"}},
                  "hconcat": [
                    {
                      "width": 60, "height": 143,
                      "data": {"name": "e_abs"},
                      "layer": [
                        {"transform": [{"window": [{"op": "row_number", "as": "rn"}]}],
                         "mark": {"type": "circle", "size": 7, "opacity": 0.9},
                         "encoding": {
                           "x": {"field": "q", "type": "nominal", "scale": {"domain": ["Q1", "Q2", "Q3", "Q4"], "paddingInner": 0.35, "paddingOuter": 0.2}, "axis": {"title": null, "labelAngle": 0, "labelFontSize": 8}},
                           "xOffset": {"field": "rn", "type": "nominal"},
                           "y": {"field": "v", "type": "quantitative", "scale": {"domain": [-0.0303, 0.0157]}, "axis": {"values": [-0.03, -0.02, -0.01, 0], "format": ".2f", "labelFontSize": 7, "titleFontSize": 7.5, "title": "Absolute memory change (corrected)"}},
                           "color": {"field": "q", "type": "nominal", "scale": {"domain": ["Q1", "Q2", "Q3", "Q4"], "range": ["#1B9E77", "#D95F02", "#7570B3", "#E7298A"]}, "legend": null}}},
                        {"mark": {"type": "tick", "color": "#111", "thickness": 1.3, "size": 11},
                         "encoding": {"x": {"field": "q", "type": "nominal"}, "y": {"aggregate": "median", "field": "v", "type": "quantitative"}}},
                        {"data": {"name": "e_abs_sig"}, "mark": {"type": "rule", "color": "#444", "strokeWidth": 0.7},
                         "encoding": {"x": {"field": "a", "type": "nominal"}, "x2": {"field": "b"}, "y": {"field": "y", "type": "quantitative"}}},
                        {"data": {"name": "e_abs_sig"}, "transform": [{"filter": "datum.a == 'Q1'"}],
                         "mark": {"type": "text", "fontSize": 5.5, "dy": -3, "color": "#333"},
                         "encoding": {"x": {"datum": "Q2", "type": "nominal", "bandPosition": 1}, "y": {"field": "y", "type": "quantitative"}, "text": {"field": "lab"}}},
                        {"data": {"name": "e_abs_sig"}, "transform": [{"filter": "datum.a == 'Q2'"}],
                         "mark": {"type": "text", "fontSize": 5.5, "dy": -3, "color": "#333"},
                         "encoding": {"x": {"datum": "Q3", "type": "nominal", "bandPosition": 0.5}, "y": {"field": "y", "type": "quantitative"}, "text": {"field": "lab"}}},
                        {"data": {"name": "e_abs_sig"}, "transform": [{"filter": "datum.a == 'Q3'"}],
                         "mark": {"type": "text", "fontSize": 5.5, "dy": -3, "color": "#333"},
                         "encoding": {"x": {"datum": "Q3", "type": "nominal", "bandPosition": 1}, "y": {"field": "y", "type": "quantitative"}, "text": {"field": "lab"}}}
                      ]
                    },
                    {
                      "width": 23, "height": 143,
                      "data": {"name": "e_abs"},
                      "transform": [
                        {"filter": {"field": "q", "oneOf": ["Q1", "Q4"]}},
                        {"density": "v", "groupby": ["q"], "bandwidth": 0.0035, "extent": [-0.030, 0.0065], "steps": 80}
                      ],
                      "mark": {"type": "area", "orient": "horizontal", "fillOpacity": 0.38, "strokeWidth": 0.7, "strokeOpacity": 0.9},
                      "encoding": {
                        "y": {"field": "value", "type": "quantitative", "scale": {"domain": [-0.0303, 0.0157]}, "axis": null},
                        "x": {"field": "density", "type": "quantitative", "stack": null, "axis": null},
                        "color": {"field": "q", "type": "nominal", "scale": {"domain": ["Q1", "Q4"], "range": ["#1B9E77", "#E7298A"]}, "legend": null},
                        "stroke": {"field": "q", "type": "nominal", "scale": {"domain": ["Q1", "Q4"], "range": ["#1B9E77", "#E7298A"]}, "legend": null}
                      }
                    }
                  ]
                }
              ]
            }
          ]
        }
      ]
    }
  ]
}
